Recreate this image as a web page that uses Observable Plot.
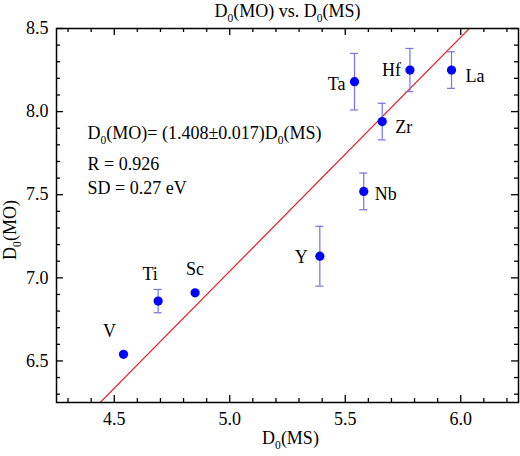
<!DOCTYPE html>
<html><head><meta charset="utf-8">
<script src="https://cdn.jsdelivr.net/npm/d3@7"></script>
<script src="https://cdn.jsdelivr.net/npm/@observablehq/plot@0.6"></script>
<style>
html,body{margin:0;padding:0;background:#fff}
svg{display:block}
#chart svg, #chart svg text, #chart svg tspan{font-family:"Liberation Serif","Times New Roman",Times,serif !important}
</style>
</head><body><div id="chart"></div>
<script>
// ---- data ----
const elements = ["V", "Ti", "Sc", "Y", "Nb", "Zr", "Ta", "Hf", "La"];
const d0MS = [4.54, 4.69, 4.85, 5.39, 5.58, 5.66, 5.54, 5.78, 5.96];
const d0MO = [6.54, 6.86, 6.91, 7.13, 7.52, 7.94, 8.18, 8.25, 8.25];
const errMO = [0, 0.07, 0, 0.18, 0.11, 0.11, 0.17, 0.13, 0.11];
const fitSlope = 1.408;
const fitX = [4.25, 6.25];
const xMajor = [4.5, 5.0, 5.5, 6.0];
const xMinor = [4.3, 4.4, 4.6, 4.7, 4.8, 4.9, 5.1, 5.2, 5.3, 5.4, 5.6, 5.7, 5.8, 5.9, 6.1, 6.2];
const yMajor = [6.5, 7.0, 7.5, 8.0, 8.5];
const yMinor = [6.3, 6.4, 6.6, 6.7, 6.8, 6.9, 7.1, 7.2, 7.3, 7.4, 7.6, 7.7, 7.8, 7.9, 8.1, 8.2, 8.3, 8.4];
const titleText = "D0(MO) vs. D0(MS)";
const xLabel = "D0(MS)";
const yLabel = "D0(MO)";
const annotations = ["D0(MO)= (1.408±0.017)D0(MS)", "R = 0.926", "SD = 0.27 eV"];

// ---- layout / style ----
const W = 520, H = 456, mT = 28, mR = 2, mB = 54, mL = 56;
const plotW = W - mL - mR, plotH = H - mT - mB;
const FONT = "'Liberation Serif', 'Times New Roman', Times, serif";
const labelPlacement = {
  V:  {dx: -14, dy: -23, anchor: "middle"},
  Ti: {dx: -8,  dy: -27, anchor: "middle"},
  Sc: {dx: 0,   dy: -24, anchor: "middle"},
  Y:  {dx: -12, dy: 1,   anchor: "end"},
  Nb: {dx: 11,  dy: 3,   anchor: "start"},
  Zr: {dx: 13,  dy: 6,   anchor: "start"},
  Ta: {dx: -9,  dy: 3,   anchor: "end"},
  Hf: {dx: -9,  dy: 0,   anchor: "end"},
  La: {dx: 14,  dy: 6,   anchor: "start"}
};
const annotDy = [110, 141, 165];
const yLabelAnchor = [15.5, 230]; // baseline x / centre y of the rotated y-axis label (px)

const rows = elements.map((name, i) => ({name, x: d0MS[i], y: d0MO[i], e: errMO[i]}));
const errRows = rows.filter(d => d.e > 0);
const fitRows = fitX.map(x => ({x, y: fitSlope * x}));

const tickStyle = {stroke: "black", strokeWidth: 1.3};

const chart = Plot.plot({
  width: W, height: H,
  marginTop: mT, marginRight: mR, marginBottom: mB, marginLeft: mL,
  style: {fontFamily: FONT, fontSize: "18px", background: "white", color: "black"},
  x: {domain: [4.25, 6.25], axis: null},
  y: {domain: [6.25, 8.5], axis: null},
  marks: [
    // ticks (inward, mirrored)
    Plot.ruleX(xMajor, {x: d => d, insetTop: plotH - 7, ...tickStyle}),
    Plot.ruleX(xMajor, {x: d => d, insetBottom: plotH - 7, ...tickStyle}),
    Plot.ruleX(xMinor, {x: d => d, insetTop: plotH - 4, ...tickStyle}),
    Plot.ruleX(xMinor, {x: d => d, insetBottom: plotH - 4, ...tickStyle}),
    Plot.ruleY(yMajor, {y: d => d, insetRight: plotW - 7, ...tickStyle}),
    Plot.ruleY(yMajor, {y: d => d, insetLeft: plotW - 7, ...tickStyle}),
    Plot.ruleY(yMinor, {y: d => d, insetRight: plotW - 4, ...tickStyle}),
    Plot.ruleY(yMinor, {y: d => d, insetLeft: plotW - 4, ...tickStyle}),
    // tick labels
    Plot.axisX(xMajor, {tickSize: 0, tickPadding: 10, fontSize: 18, tickFormat: d3.format(".1f"), label: null}),
    Plot.axisY(yMajor, {tickSize: 0, tickPadding: 8, fontSize: 18, tickFormat: d3.format(".1f"), label: null}),
    // fit line
    Plot.line(fitRows, {x: "x", y: "y", stroke: "#e3202c", strokeWidth: 1.2, clip: true}),
    // error bars
    Plot.ruleX(errRows, {x: "x", y1: d => d.y - d.e, y2: d => d.y + d.e, stroke: "#7474e4", strokeWidth: 1.2}),
    Plot.ruleY(errRows, {y: d => d.y + d.e, x1: "x", x2: "x", insetLeft: -4, insetRight: -4, stroke: "#7474e4", strokeWidth: 1.2}),
    Plot.ruleY(errRows, {y: d => d.y - d.e, x1: "x", x2: "x", insetLeft: -4, insetRight: -4, stroke: "#7474e4", strokeWidth: 1.2}),
    // points
    Plot.dot(rows, {x: "x", y: "y", r: 4.6, fill: "#0000ff", stroke: "none"}),
    // point labels
    ...rows.map(d => Plot.text([d], {
      x: "x", y: "y", text: "name", fontSize: 18,
      dx: labelPlacement[d.name].dx, dy: labelPlacement[d.name].dy,
      textAnchor: labelPlacement[d.name].anchor, fill: "black"
    })),
    // annotations
    ...annotations.map((t, i) => Plot.text([t], {
      frameAnchor: "top-left", dx: 31, dy: annotDy[i], lineAnchor: "bottom",
      textAnchor: "start", fontSize: 18, fill: "black"
    })),
    // title and axis labels
    Plot.text([titleText], {frameAnchor: "top", dy: -12, lineAnchor: "bottom", textAnchor: "middle", fontSize: 18, fill: "black"}),
    Plot.text([xLabel], {frameAnchor: "bottom", dx: 3, dy: 41, lineAnchor: "bottom", textAnchor: "middle", fontSize: 18, fill: "black"}),
    Plot.text([yLabel], {frameAnchor: "left", rotate: -90, lineAnchor: "bottom", textAnchor: "middle", fontSize: 18, fill: "black"}),
    Plot.frame({stroke: "black", strokeWidth: 1.5})
  ]
});

d3.select(chart).attr("font-family", FONT);
document.getElementById("chart").appendChild(chart);

// find the rotated y-axis label element
let yLabelEl = null;
d3.select(chart).selectAll("text").each(function () {
  const tr = this.getAttribute("transform") || "";
  if (this.textContent === yLabel && /rotate/.test(tr)) yLabelEl = this;
});

// render "D0" with a subscript 0
d3.select(chart).selectAll("text").each(function () {
  const t = this.textContent;
  if (!t.includes("D0")) return;
  const fs = parseFloat(getComputedStyle(this).fontSize) || 18;
  const sub = fs * 0.64, shift = fs * 0.28;
  const sel = d3.select(this);
  sel.text(null);
  const parts = t.split("D0");
  parts.forEach((p, k) => {
    if (k === 0) { if (p) sel.append("tspan").text(p); return; }
    sel.append("tspan").text("D");
    sel.append("tspan").attr("font-size", sub).attr("dy", shift).text("0");
    sel.append("tspan").attr("dy", -shift).text(p);
  });
});

// position the rotated y label explicitly (escape the mark's group offset)
if (yLabelEl) {
  const g = yLabelEl.parentNode;
  chart.appendChild(yLabelEl);
  yLabelEl.removeAttribute("x");
  yLabelEl.removeAttribute("y");
  yLabelEl.removeAttribute("dx");
  yLabelEl.removeAttribute("dy");
  yLabelEl.setAttribute("text-anchor", "middle");
  yLabelEl.setAttribute("font-size", 18);
  yLabelEl.setAttribute("fill", "black");
  yLabelEl.setAttribute("transform", `translate(${yLabelAnchor[0]},${yLabelAnchor[1]}) rotate(-90)`);
}
</script>
</body></html>
